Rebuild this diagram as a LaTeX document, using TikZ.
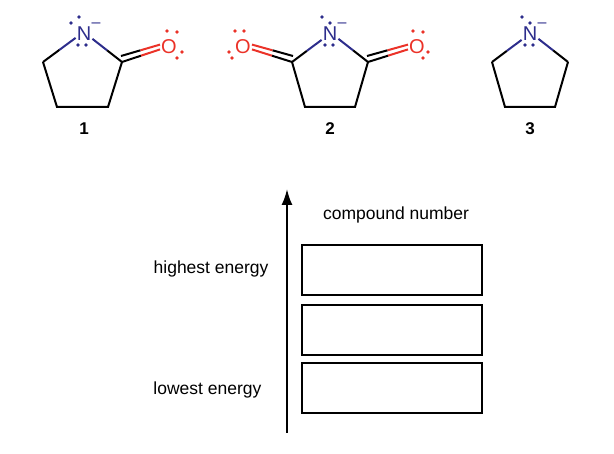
\documentclass[tikz,border=0pt]{standalone}
\usepackage{fontspec}
\setmainfont{Liberation Sans}
\usetikzlibrary{calc,arrows.meta}
\begin{document}
\begin{tikzpicture}[x=1pt,y=-1pt,
  bond/.style={line width=2pt},
  dot/.style={circle,inner sep=0pt,minimum size=3.6pt},
  atom/.style={inner sep=1pt,font=\fontsize{20}{20}\selectfont},
  mns/.style={inner sep=0pt,text=nblue,font=\fontsize{16}{16}\selectfont},
  lbl/.style={font=\bfseries\fontsize{17}{17}\selectfont},
  txt/.style={font=\fontsize{17.5}{17.5}\selectfont},
  ebox/.style={draw,line width=2pt,minimum width=180pt,minimum height=50pt,inner sep=0pt}]
\definecolor{nblue}{RGB}{45,45,140}
\definecolor{ored}{RGB}{235,50,40}
\useasboundingbox (0,0) rectangle (614,454);
% ---------- molecule 1
\coordinate (a1) at (84,34); \coordinate (b1) at (43,62); \coordinate (c1) at (57,107);
\coordinate (d1) at (108,107); \coordinate (e1) at (122,62); \coordinate (o1) at (169,47);
\node[atom,text=nblue] (n1) at (a1) {N};
\node[mns] (m1) at (96,25) {–};
\node[atom,text=ored] (ox1) at (o1) {O};
\draw[bond] (b1) -- (c1) -- (d1) -- (e1);
\path (n1.205) coordinate (n1l) (n1.-30) coordinate (n1r);
\draw[bond,nblue] (n1l) -- ($(n1l)!0.5!(b1)$); \draw[bond] ($(n1l)!0.5!(b1)$) -- (b1);
\draw[bond,nblue] (n1r) -- ($(n1r)!0.5!(e1)$); \draw[bond] ($(n1r)!0.5!(e1)$) -- (e1);
\draw[bond] (e1) -- ($(e1)!0.5!(ox1.195)$); \draw[bond,ored] ($(e1)!0.5!(ox1.195)$) -- (ox1.195);
\draw[bond] (e1) ++(-1,-6) coordinate (e1u) -- ($(e1u)!0.5!(ox1.165)$); \draw[bond,ored] ($(e1u)!0.5!(ox1.165)$) -- (ox1.165);
\foreach \p in {(71,23),(79,17),(78,45),(86,45)} \node[dot,fill=nblue] at \p {};
\foreach \p in {(167,31),(177,32),(182,52),(177,58)} \node[dot,fill=ored] at \p {};
\node[lbl] (l1) at (84,129) {1};
% ---------- molecule 2
\coordinate (a2) at (330,34); \coordinate (b2) at (292,62); \coordinate (c2) at (305,107);
\coordinate (d2) at (355,107); \coordinate (e2) at (368,62);
\node[atom,text=nblue] (n2) at (a2) {N};
\node[mns] (m2) at (342,25) {–};
\node[atom,text=ored] (ox2) at (243,47) {O};
\node[atom,text=ored] (ox3) at (417,47) {O};
\draw[bond] (b2) -- (c2) -- (d2) -- (e2);
\path (n2.215) coordinate (n2l) (n2.-30) coordinate (n2r);
\draw[bond,nblue] (n2l) -- ($(n2l)!0.5!(b2)$); \draw[bond] ($(n2l)!0.5!(b2)$) -- (b2);
\draw[bond,nblue] (n2r) -- ($(n2r)!0.5!(e2)$); \draw[bond] ($(n2r)!0.5!(e2)$) -- (e2);
\draw[bond] (e2) -- ($(e2)!0.5!(ox3.195)$); \draw[bond,ored] ($(e2)!0.5!(ox3.195)$) -- (ox3.195);
\draw[bond] (e2) ++(-1,-6) coordinate (e2u) -- ($(e2u)!0.5!(ox3.165)$); \draw[bond,ored] ($(e2u)!0.5!(ox3.165)$) -- (ox3.165);
\draw[bond] (b2) -- ($(b2)!0.5!(ox2.-15)$); \draw[bond,ored] ($(b2)!0.5!(ox2.-15)$) -- (ox2.-15);
\draw[bond] (b2) ++(1,-6) coordinate (b2u) -- ($(b2u)!0.5!(ox2.15)$); \draw[bond,ored] ($(b2u)!0.5!(ox2.15)$) -- (ox2.15);
\foreach \p in {(322,17),(330,23),(325,45),(333,45)} \node[dot,fill=nblue] at \p {};
\foreach \p in {(413,31),(423,32),(428,52),(423,58)} \node[dot,fill=ored] at \p {};
\foreach \p in {(235,31),(244,31),(229,52),(232,58)} \node[dot,fill=ored] at \p {};
\node[lbl] (l2) at (330,129) {2};
% ---------- molecule 3
\coordinate (a3) at (530,34); \coordinate (b3) at (492,62); \coordinate (c3) at (505,107);
\coordinate (d3) at (555,107); \coordinate (e3) at (568,62);
\node[atom,text=nblue] (n3) at (a3) {N};
\node[mns] (m3) at (542,25) {–};
\draw[bond] (b3) -- (c3) -- (d3) -- (e3);
\path (n3.215) coordinate (n3l) (n3.-30) coordinate (n3r);
\draw[bond,nblue] (n3l) -- ($(n3l)!0.5!(b3)$); \draw[bond] ($(n3l)!0.5!(b3)$) -- (b3);
\draw[bond,nblue] (n3r) -- ($(n3r)!0.5!(e3)$); \draw[bond] ($(n3r)!0.5!(e3)$) -- (e3);
\foreach \p in {(522,17),(530,23),(525,45),(533,45)} \node[dot,fill=nblue] at \p {};
\node[lbl] (l3) at (530,129) {3};
% ---------- energy diagram
\coordinate (ab) at (287,433); \coordinate (at) at (287,189);
\draw[line width=2pt,-{Latex[length=16pt,width=11pt]}] (ab) -- (at);
\node[txt] (cn) at (396,215) {compound number};
\node[ebox,anchor=north west] (bx1) at (301,244) {};
\node[ebox,anchor=north west] (bx2) at (301,304) {};
\node[ebox,anchor=north west] (bx3) at (301,362) {};
\node[txt,anchor=east] (he) at (272,269) {highest energy};
\node[txt,anchor=east] (le) at (265,390) {lowest energy};
\end{tikzpicture}
\end{document}
